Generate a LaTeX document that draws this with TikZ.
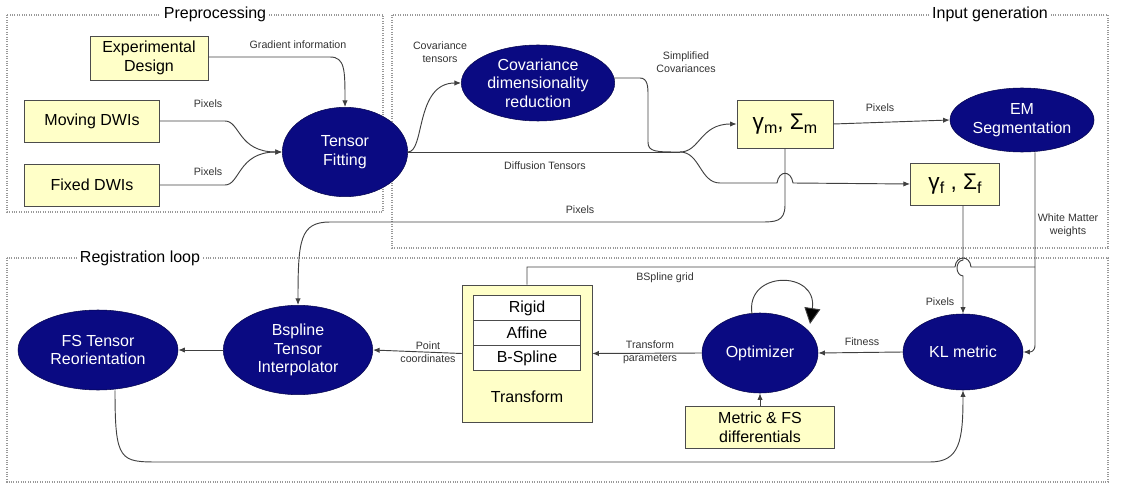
\documentclass[tikz,border=0pt]{standalone}
\usepackage{fontspec}
\setmainfont{Liberation Sans}
\usetikzlibrary{shapes.geometric,arrows.meta}
\definecolor{nav}{RGB}{10,10,130}
\definecolor{ylw}{RGB}{255,255,200}
\newcommand{\sbx}[1]{\raisebox{-0.35ex}{\fontsize{12}{12}\selectfont #1}}
\begin{document}
\begin{tikzpicture}[x=0.75pt,y=-0.75pt,
 ell/.style={ellipse,fill=nav,draw=nav!60!black,text=white,align=center,inner sep=0pt,font=\fontsize{12}{14}\selectfont},
 box/.style={rectangle,fill=ylw,draw=black!70,align=center,inner sep=0pt,font=\fontsize{12}{14}\selectfont},
 sub/.style={rectangle,fill=white,draw=black!70,minimum width=80pt,minimum height=18.75pt,inner sep=0pt,font=\fontsize{12}{14}\selectfont},
 lbl/.style={font=\fontsize{8}{9.5}\selectfont,text=black!80,align=center,inner sep=1pt},
 sec/.style={font=\fontsize{12}{14}\selectfont,fill=white,inner sep=2pt},
 grp/.style={draw=black!40,densely dotted,line width=0.8pt},
 con/.style={draw=black!75,line width=0.7pt},
 arr/.style={con,-{Latex[length=5pt,width=4pt]}}]
\useasboundingbox (0,0) rectangle (1148,495);
% groups
\draw[grp] (7,15) rectangle (383,212);
\draw[grp] (392,15) rectangle (1108,248);
\draw[grp] (7,258) rectangle (1108,482);
\node[sec] (secA) at (215,14) {Preprocessing};
\node[sec] (secB) at (990,14) {Input generation};
\node[sec] (secC) at (140,258) {Registration loop};
% nodes
\node[box,minimum width=88.5pt,minimum height=33pt] (exp) at (149,58) {Experimental\\Design};
\node[box,minimum width=101pt,minimum height=31.5pt] (mov) at (92,121) {Moving DWIs};
\node[box,minimum width=101pt,minimum height=31.5pt] (fix) at (92,185) {Fixed DWIs};
\node[ell,minimum width=94pt,minimum height=67pt] (tf) at (345,152) {Tensor\\Fitting};
\node[ell,minimum width=115pt,minimum height=57pt] (cov) at (538,83) {Covariance\\dimensionality\\reduction};
\node[box,minimum width=72pt,minimum height=36pt,font=\fontsize{17}{18}\selectfont] (gm) at (785,124) {γ\sbx{m}, Σ\sbx{m}};
\node[ell,minimum width=108pt,minimum height=48pt] (em) at (1022,120) {EM\\Segmentation};
\node[box,minimum width=67pt,minimum height=31.5pt,font=\fontsize{17}{18}\selectfont] (gf) at (955,184) {γ\sbx{f} , Σ\sbx{f}};
\node[ell,minimum width=120pt,minimum height=60pt] (fs) at (98,350) {FS Tensor\\Reorientation};
\node[ell,minimum width=112pt,minimum height=67pt] (bs) at (298,350) {Bspline\\Tensor\\Interpolator};
\node[box,minimum width=97.5pt,minimum height=103pt] (tr) at (527,353.5) {};
\node[sub] (rig) at (527,308) {Rigid};
\node[sub] (aff) at (527,333) {Affine};
\node[sub] (bsp) at (527,358) {B-Spline};
\node[font=\fontsize{12}{14}\selectfont] (trl) at (527,397) {Transform};
\node[ell,minimum width=87pt,minimum height=60pt] (opt) at (760,353) {Optimizer};
\node[ell,minimum width=90pt,minimum height=57pt] (kl) at (963,352) {KL metric};
\node[box,minimum width=112pt,minimum height=31.5pt] (met) at (760,427) {Metric \& FS\\differentials};
% labels
\node[lbl] (l1) at (298,45) {Gradient information};
\node[lbl] (l2) at (208,104) {Pixels};
\node[lbl] (l3) at (208,172) {Pixels};
\node[lbl] (l4) at (440,52) {Covariance\\tensors};
\node[lbl] (l5) at (686,62) {Simplified\\Covariances};
\node[lbl] (l6) at (545,166) {Diffusion Tensors};
\node[lbl] (l7) at (580,210) {Pixels};
\node[lbl] (l8) at (880,108) {Pixels};
\node[lbl] (l9) at (1068,225) {White Matter\\weights};
\node[lbl] (l10) at (665,278) {BSpline grid};
\node[lbl] (l11) at (940,302) {Pixels};
\node[lbl] (l12) at (862,342) {Fitness};
\node[lbl] (l13) at (650,352) {Transform\\parameters};
\node[lbl] (l14) at (428,352) {Point\\coordinates};
% connectors
\coordinate (j1) at (680,152);
\draw[arr] (exp.east|-0,57) -- (330,57) .. controls (345,57) and (345,70) .. (tf.north);
\draw[arr] (mov.east) -- (225,121) .. controls (240,121) and (238,152) .. (tf.west);
\draw[arr] (fix.east) -- (225,185) .. controls (240,185) and (238,152) .. (tf.west);
\draw[con] (tf.east) -- (j1);
\draw[arr] (tf.east) .. controls (425,152) and (415,83) .. (cov.west);
\draw[con] (614,78) -- (640,78) .. controls (648,78) and (648,88) .. (648,95) -- (648,142) .. controls (648,152) and (656,152) .. (j1);
\draw[arr] (j1) .. controls (700,152) and (700,124) .. (gm.west);
\draw[arr] (j1) .. controls (700,152) and (700,183) .. (720,183) -- (777,183) .. controls (779,170) and (791,170) .. (793,183) -- (gf.west);
\draw[arr] (gm.south) -- (785,205) .. controls (785,222) and (775,222) .. (760,222) -- (330,222) .. controls (300,222) and (298,240) .. (bs.north);
\draw[arr] (gm.east) -- (em.west);
\draw[arr] (em.south-|1035,0) -- (1035,345) .. controls (1035,352) and (1030,352) .. (kl.east);
\draw[arr] (gf.south-|963,0) -- (963,260) .. controls (955,261) and (955,275) .. (963,276) -- (kl.north);
\draw[con] (tr.north) -- (527,267) -- (955,267) .. controls (956,255) and (970,255) .. (971,267) -- (1035,267);
\draw[arr] (kl.west) -- (opt.east);
\draw[arr] (opt.west) -- (tr.east);
\draw[arr] (tr.west) -- (bs.east);
\draw[arr] (bs.west) -- (fs.east);
\draw[arr] (met.north) -- (opt.south);
\draw[arr] (fs.south-|115,0) .. controls (115,462) and (120,462) .. (160,462) -- (930,462) .. controls (960,462) and (963,440) .. (kl.south);
\draw[con,-{Triangle[length=12pt,width=12pt,fill=black]}] (752,314) .. controls (745,270) and (818,270) .. (810,324);
\end{tikzpicture}
\end{document}
